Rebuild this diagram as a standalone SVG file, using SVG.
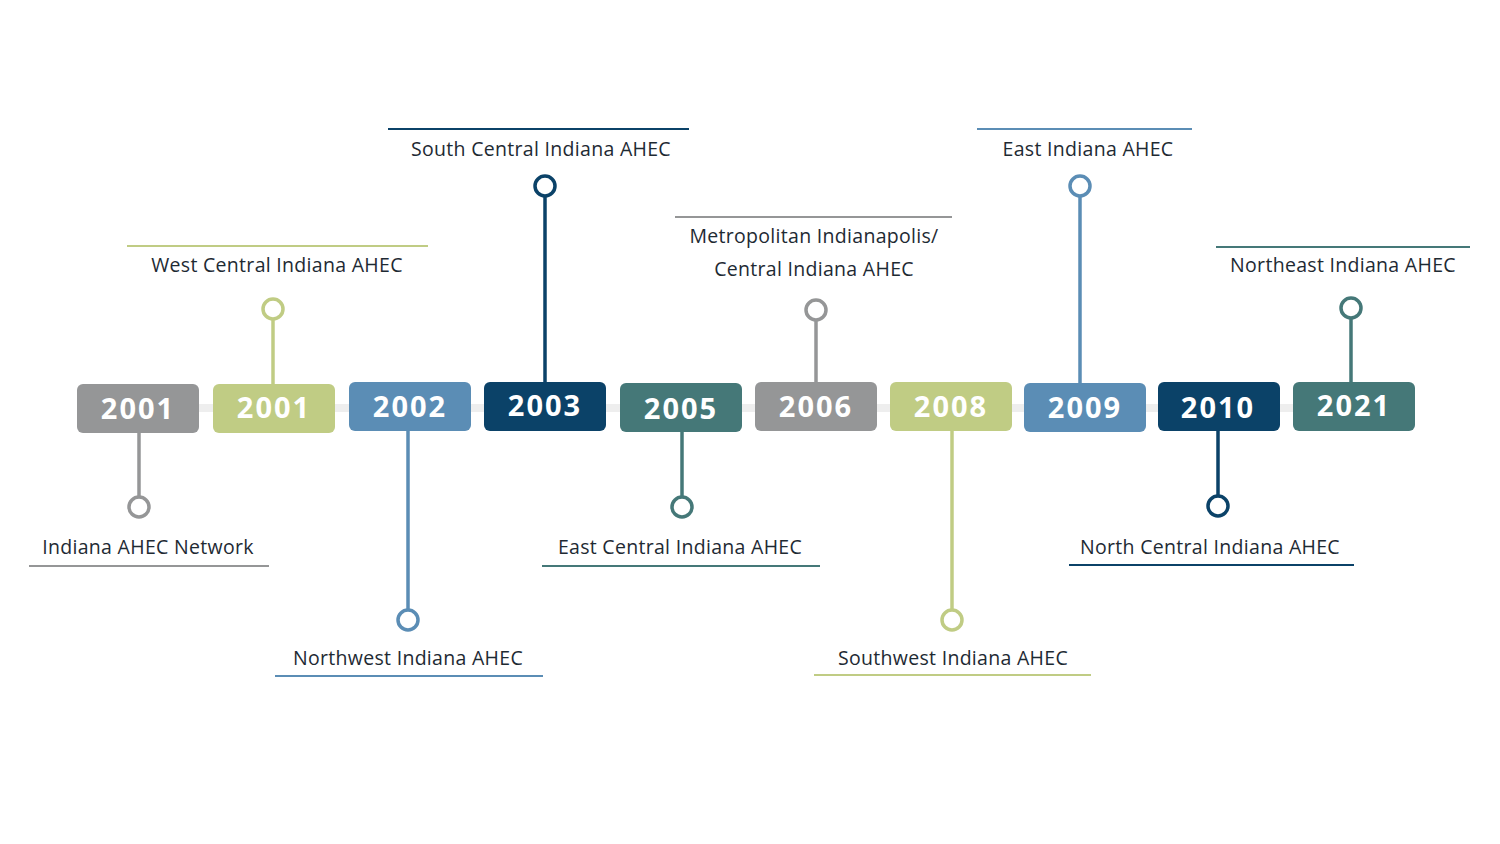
<svg xmlns="http://www.w3.org/2000/svg" width="1500" height="844" viewBox="0 0 1500 844">
<style>
.yr{font-family:"Open Sans","Liberation Sans",sans-serif;font-weight:700;font-size:29px;fill:#fff;text-anchor:middle;letter-spacing:2px}
.lb{font-family:"Open Sans","Liberation Sans",sans-serif;font-size:19.5px;fill:#1e2a33;text-anchor:middle;letter-spacing:0.3px}
.st{stroke-width:3.5;fill:none}
.dot{stroke-width:3.5;fill:#fff}
.gr{stroke:#959697}.gn{stroke:#c0cc84}.bl{stroke:#5b8db5}.nv{stroke:#0b4268}.tl{stroke:#457878}
.ul{stroke-width:2}
</style>
<rect width="1500" height="844" fill="#fff"/>
<g id="connectors">
<line x1="100" y1="408" x2="1400" y2="408" stroke="#eeeeee" stroke-width="8"/>
<line class="st gr" x1="139" y1="433" x2="139" y2="497"/>
<line class="st gn" x1="273" y1="319" x2="273" y2="384"/>
<line class="st bl" x1="408" y1="431" x2="408" y2="610"/>
<line class="st nv" x1="545" y1="196" x2="545" y2="382"/>
<line class="st tl" x1="682" y1="432" x2="682" y2="497"/>
<line class="st gr" x1="816" y1="320" x2="816" y2="382"/>
<line class="st gn" x1="952" y1="431" x2="952" y2="610"/>
<line class="st bl" x1="1080" y1="196" x2="1080" y2="383"/>
<line class="st nv" x1="1218" y1="431" x2="1218" y2="496"/>
<line class="st tl" x1="1351" y1="318" x2="1351" y2="382"/>
</g>
<g id="n2001a"><rect x="77" y="384" width="122" height="49" rx="6" fill="#959697"/><text class="yr" x="138" y="419">2001</text>
<circle class="dot gr" cx="139" cy="507" r="10"/><text class="lb" x="148" y="554">Indiana AHEC Network</text><line class="ul gr" x1="29" y1="566" x2="269" y2="566"/></g>
<g id="n2001b"><rect x="213" y="384" width="122" height="49" rx="6" fill="#c0cc84"/><text class="yr" x="274" y="418">2001</text>
<circle class="dot gn" cx="273" cy="309" r="10"/><text class="lb" x="277" y="272">West Central Indiana AHEC</text><line class="ul gn" x1="127" y1="246" x2="428" y2="246"/></g>
<g id="n2002"><rect x="349" y="382" width="122" height="49" rx="6" fill="#5b8db5"/><text class="yr" x="410" y="417">2002</text>
<circle class="dot bl" cx="408" cy="620" r="10"/><text class="lb" x="408" y="665">Northwest Indiana AHEC</text><line class="ul bl" x1="275" y1="676" x2="543" y2="676"/></g>
<g id="n2003"><rect x="484" y="382" width="122" height="49" rx="6" fill="#0b4268"/><text class="yr" x="545" y="416">2003</text>
<circle class="dot nv" cx="545" cy="186" r="10"/><text class="lb" x="541" y="156">South Central Indiana AHEC</text><line class="ul nv" x1="388" y1="129" x2="689" y2="129"/></g>
<g id="n2005"><rect x="620" y="383" width="122" height="49" rx="6" fill="#457878"/><text class="yr" x="681" y="419">2005</text>
<circle class="dot tl" cx="682" cy="507" r="10"/><text class="lb" x="680" y="554">East Central Indiana AHEC</text><line class="ul tl" x1="542" y1="566" x2="820" y2="566"/></g>
<g id="n2006"><rect x="755" y="382" width="122" height="49" rx="6" fill="#959697"/><text class="yr" x="816" y="417">2006</text>
<circle class="dot gr" cx="816" cy="310" r="10"/><text class="lb" x="814" y="243">Metropolitan Indianapolis/</text><text class="lb" x="814" y="276">Central Indiana AHEC</text><line class="ul gr" x1="675" y1="217" x2="952" y2="217"/></g>
<g id="n2008"><rect x="890" y="382" width="122" height="49" rx="6" fill="#c0cc84"/><text class="yr" x="951" y="417">2008</text>
<circle class="dot gn" cx="952" cy="620" r="10"/><text class="lb" x="953" y="665">Southwest Indiana AHEC</text><line class="ul gn" x1="814" y1="675" x2="1091" y2="675"/></g>
<g id="n2009"><rect x="1024" y="383" width="122" height="49" rx="6" fill="#5b8db5"/><text class="yr" x="1085" y="418">2009</text>
<circle class="dot bl" cx="1080" cy="186" r="10"/><text class="lb" x="1088" y="156">East Indiana AHEC</text><line class="ul bl" x1="977" y1="129" x2="1192" y2="129"/></g>
<g id="n2010"><rect x="1158" y="382" width="122" height="49" rx="6" fill="#0b4268"/><text class="yr" x="1218" y="418">2010</text>
<circle class="dot nv" cx="1218" cy="506" r="10"/><text class="lb" x="1210" y="554">North Central Indiana AHEC</text><line class="ul nv" x1="1069" y1="565" x2="1354" y2="565"/></g>
<g id="n2021"><rect x="1293" y="382" width="122" height="49" rx="6" fill="#457878"/><text class="yr" x="1354" y="416">2021</text>
<circle class="dot tl" cx="1351" cy="308" r="10"/><text class="lb" x="1343" y="272">Northeast Indiana AHEC</text><line class="ul tl" x1="1216" y1="247" x2="1470" y2="247"/></g>
</svg>
